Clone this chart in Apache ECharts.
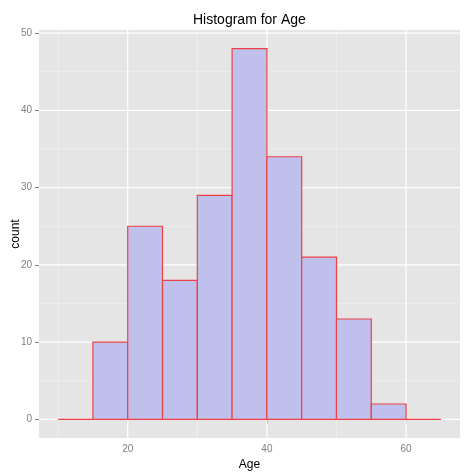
<!DOCTYPE html>
<html>
<head>
<meta charset="utf-8">
<script src="https://cdn.jsdelivr.net/npm/echarts@6/dist/echarts.min.js"></script>
<style>
  html, body { margin: 0; padding: 0; background: #fff; }
  #chart { width: 474px; height: 474px; }
</style>
</head>
<body>
<div id="chart"></div>
<script>
// bins of width 5, counts
const binStart = [10, 15, 20, 25, 30, 35, 40, 45, 50, 55, 60]
const binEnd = [15, 20, 25, 30, 35, 40, 45, 50, 55, 60, 65]
const counts = [0, 10, 25, 18, 29, 48, 34, 21, 13, 2, 0]

const xTicks = [20, 40, 60]
const xMinor = [10, 30, 50]
const yTicks = [0, 10, 20, 30, 40, 50]
const yMinor = [5, 15, 25, 35, 45]

const chart = echarts.init(document.getElementById('chart'))

const bars = binStart.map((s, i) => [s, binEnd[i], counts[i]])

// grid lines: [axis, value, isMajor]
const lines = []
xMinor.forEach(v => lines.push([0, v, 0]))
yMinor.forEach(v => lines.push([1, v, 0]))
xTicks.forEach(v => lines.push([0, v, 1]))
yTicks.forEach(v => lines.push([1, v, 1]))

const font = 'Liberation Sans, Arial, sans-serif'

const option = {
  backgroundColor: '#fff',
  animation: false,
  title: {
    text: 'Histogram for Age',
    left: 193,
    top: 13,
    padding: 0,
    textStyle: { fontFamily: font, fontSize: 14, fontWeight: 'normal', color: '#000' }
  },
  grid: {
    left: 39, right: 14, top: 30, bottom: 36,
    containLabel: false, outerBoundsMode: 'none',
    show: true, backgroundColor: '#E5E5E5', borderWidth: 0
  },
  xAxis: {
    type: 'value',
    min: 7.25,
    max: 67.75,
    name: 'Age',
    nameLocation: 'middle',
    nameGap: 21,
    nameMoveOverlap: false,
    nameTextStyle: { fontFamily: font, fontSize: 12, color: '#000' },
    axisLine: { show: false },
    axisTick: { show: true, customValues: xTicks, length: 4, lineStyle: { color: '#7F7F7F' } },
    axisLabel: { customValues: xTicks, margin: 6, fontFamily: font, fontSize: 10, color: '#7F7F7F' },
    splitLine: { show: false }
  },
  yAxis: {
    type: 'value',
    min: -2.4,
    max: 50.4,
    name: 'count',
    nameLocation: 'middle',
    nameGap: 17,
    nameMoveOverlap: false,
    nameTextStyle: { fontFamily: font, fontSize: 12, color: '#000' },
    axisLine: { show: false },
    axisTick: { show: true, customValues: yTicks, length: 4, lineStyle: { color: '#7F7F7F' } },
    axisLabel: { customValues: yTicks, margin: 7, fontFamily: font, fontSize: 10, color: '#7F7F7F' },
    splitLine: { show: false }
  },
  series: [
    {
      type: 'custom',
      silent: true,
      data: lines,
      renderItem: function (params, api) {
        const cs = params.coordSys
        const axis = api.value(0)
        const v = api.value(1)
        const major = api.value(2)
        let shape
        if (axis === 0) {
          const p = api.coord([v, 0])
          shape = { x1: p[0], y1: cs.y, x2: p[0], y2: cs.y + cs.height }
        } else {
          const p = api.coord([10, v])
          shape = { x1: cs.x, y1: p[1], x2: cs.x + cs.width, y2: p[1] }
        }
        return {
          type: 'line',
          shape: shape,
          style: { stroke: major ? '#FFFFFF' : '#F2F2F2', lineWidth: major ? 1.2 : 0.6 }
        }
      },
      z: 1
    },
    {
      type: 'custom',
      data: bars,
      encode: { x: [0, 1], y: 2 },
      renderItem: function (params, api) {
        const p0 = api.coord([api.value(0), 0])
        const p1 = api.coord([api.value(1), api.value(2)])
        return {
          type: 'rect',
          shape: { x: p0[0], y: p1[1], width: p1[0] - p0[0], height: p0[1] - p1[1] },
          style: { fill: '#C0C0EC', stroke: '#EE4044', lineWidth: 1.2 }
        }
      },
      z: 2
    }
  ]
}

chart.setOption(option)
</script>
</body>
</html>
